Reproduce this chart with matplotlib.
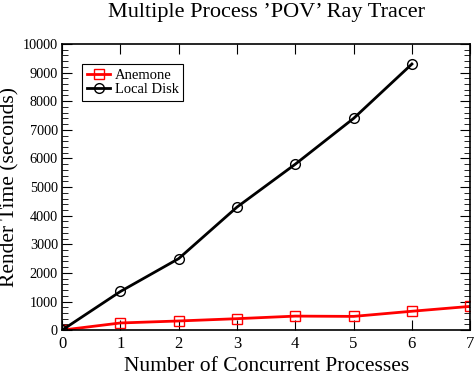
import matplotlib
matplotlib.use("Agg")
import matplotlib.pyplot as plt
from matplotlib.ticker import MultipleLocator

plt.rcParams['font.family'] = ['Liberation Serif', 'DejaVu Serif']

procs_anemone = [0, 1, 2, 3, 4, 5, 6, 7]
time_anemone = [0, 250, 320, 400, 490, 480, 660, 830]
procs_local = [0, 1, 2, 3, 4, 5, 6]
time_local = [0, 1350, 2500, 4300, 5800, 7400, 9300]

fig = plt.figure(figsize=(4.74, 3.76), dpi=100)
ax = fig.add_axes([0.131, 0.122, 0.861, 0.761])

ax.plot(procs_anemone, time_anemone, '-s', color='red', lw=2,
        markersize=6.5, markerfacecolor='none', markeredgewidth=1.0, label='Anemone')
ax.plot(procs_local, time_local, '-o', color='black', lw=2,
        markersize=7, markerfacecolor='none', markeredgewidth=1.0, label='Local Disk')

ax.set_xlim(0, 7)
ax.set_ylim(0, 10000)
ax.xaxis.set_major_locator(MultipleLocator(1))
ax.yaxis.set_major_locator(MultipleLocator(1000))
ax.yaxis.set_minor_locator(MultipleLocator(200))
ax.tick_params(axis='x', direction='in', top=True, labelsize=12, pad=4)
ax.tick_params(axis='y', which='both', direction='in', left=True, right=True, labelsize=10.3, pad=3)
ax.tick_params(which='major', length=7)
ax.tick_params(which='minor', length=4)
for s in ax.spines.values():
    s.set_linewidth(1.2)

ax.set_xlabel('Number of Concurrent Processes', fontsize=15.5)
ax.set_ylabel('Render Time (seconds)', fontsize=15.5)
ax.xaxis.set_label_coords(0.5, -0.095)
ax.yaxis.set_label_coords(-0.105, 0.5)
# title placed by hand so it sits near the top edge like the original
fig.text(0.563, 1 - 17 / 376, "Multiple Process \u2019POV\u2019 Ray Tracer",
         fontsize=16, ha='center', va='baseline')

leg = ax.legend(loc='upper left', bbox_to_anchor=(0.05, 0.93), fontsize=10.5,
                fancybox=False, edgecolor='black', framealpha=1,
                handlelength=1.6, handletextpad=0.3, borderpad=0.3,
                labelspacing=0.1, borderaxespad=0)
leg.get_frame().set_linewidth(0.8)

fig.savefig('out.png', dpi=100)
